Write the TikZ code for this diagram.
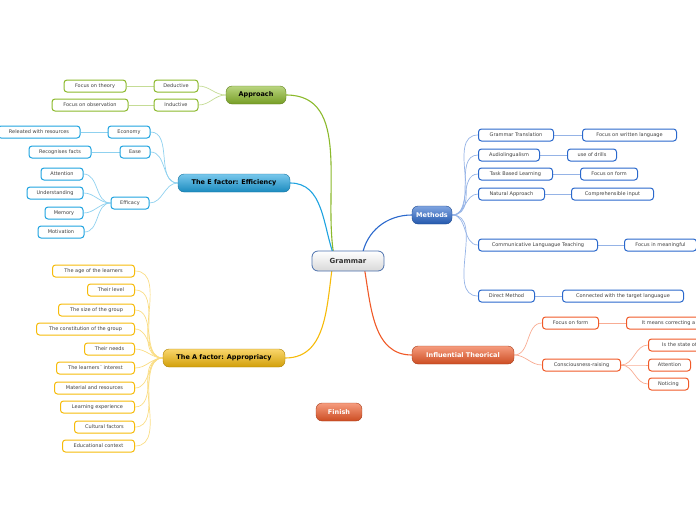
\documentclass[tikz,border=0pt]{standalone}
\usepackage{fontspec}
\setmainfont{DejaVu Sans}
\usetikzlibrary{backgrounds}
\definecolor{cgreen}{HTML}{8BB92B}
\definecolor{ccyan}{HTML}{1FA3E0}
\definecolor{cblue}{HTML}{2A68CC}
\definecolor{cyel}{HTML}{F6BB0A}
\definecolor{cred}{HTML}{F05A28}
\begin{document}
\begin{tikzpicture}[x=1pt,y=-1pt,
  leaf/.style={draw=#1,line width=1pt,rounded corners=3pt,fill=white,inner sep=0pt,minimum height=12pt,font=\fontsize{5}{5.5}\selectfont,text=black!75},
  topic/.style={rounded corners=6pt,top color=#1!60,bottom color=#1!85!black,draw=#1!70!black,line width=0.4pt,inner sep=0pt,minimum height=18pt,font=\bfseries\fontsize{6.5}{7}\selectfont},
  lk/.style={draw=#1!50,line width=0.7pt},
  mk/.style={draw=#1,line width=1.1pt}]
\useasboundingbox (0,0) rectangle (696,520);
\clip (0,0) rectangle (696,520);
% central
\node[rounded corners=6pt,top color=white,bottom color=gray!30,draw=cblue!60!gray,line width=0.8pt,minimum width=72pt,minimum height=20pt,inner sep=0pt,font=\bfseries\fontsize{7}{8}\selectfont,text=black!80] (g) at (348,261) {Grammar};
\coordinate (gl) at (334,256);
\coordinate (gr) at (362,256);
\coordinate (grb) at (364,266);
% Approach
\node[topic=cgreen,minimum width=60pt] (app) at (256,95) {Approach};
\node[leaf=cgreen,minimum width=44pt] (ded) at (176,86) {Deductive};
\node[leaf=cgreen,minimum width=44pt] (ind) at (176,105) {Inductive};
\node[leaf=cgreen,minimum width=62pt] (fth) at (95,86) {Focus on theory};
\node[leaf=cgreen,minimum width=76pt] (fob) at (90,105) {Focus on observation};
% E factor
\node[topic=ccyan,minimum width=112pt] (ef) at (234,183) {The E factor: Efficiency};
\node[leaf=ccyan,minimum width=42pt] (eco) at (129,132) {Economy};
\node[leaf=ccyan,minimum width=30pt] (ease) at (135,152) {Ease};
\node[leaf=ccyan,minimum width=38pt] (effi) at (130,203) {Efficacy};
\node[leaf=ccyan,minimum width=82pt] (rel) at (39,132) {Releated with resources};
\node[leaf=ccyan,minimum width=62pt] (rec) at (60,152) {Recognises facts};
\node[leaf=ccyan,minimum width=42pt] (att) at (62,174) {Attention};
\node[leaf=ccyan,minimum width=56pt] (und) at (55,193) {Understanding};
\node[leaf=ccyan,minimum width=38pt] (mem) at (64,213) {Memory};
\node[leaf=ccyan,minimum width=46pt] (mot) at (61,232) {Motivation};
% A factor
\node[topic=cyel,minimum width=122pt] (af) at (224,358) {The A factor: Appropriacy};
\foreach \t/\l/\y [count=\i] in {The age of the learners/53/271,Their level/88/290,The size of the group/59/310,The constitution of the group/37/329,Their needs/85/349,The learners´ interest/57/368,Material and resources/55/388,Learning experience/61/407,Cultural factors/75/427,Educational context/63/446}{
  \pgfmathsetmacro\w{135-\l}
  \node[leaf=cyel,minimum width=\w pt,anchor=east] (a\i) at (135,\y) {\t};
}
% Methods
\node[topic=cblue,minimum width=40pt,text=white] (met) at (432,215) {Methods};
\foreach \t/\a/\b/\y/\u/\c/\d [count=\i] in {Grammar Translation/478/553/135/Focus on written language/582/676,Audiolingualism/478/539/155/use of drills/567/616,Task Based Learning/478/552/174/Focus on form/580/637,Natural Approach/478/544/194/Comprehensible input/571/653,Communicative Languague Teaching/478/597/245/Focus in meaningful/624/696,Direct Method/478/534/296/Connected with the target languague/562/683}{
  \pgfmathsetmacro\w{\b-\a}
  \pgfmathsetmacro\v{\d-\c}
  \node[leaf=cblue,minimum width=\w pt,anchor=west] (m\i) at (\a,\y) {\t};
  \node[leaf=cblue,minimum width=\v pt,anchor=west] (n\i) at (\c,\y) {\u};
}
% Influential
\node[topic=cred,minimum width=102pt,text=white] (inf) at (463,355) {Influential Theorical};
\node[leaf=cred,minimum width=56pt,anchor=west] (ff) at (542,323) {Focus on form};
\node[leaf=cred,minimum width=84pt,anchor=west] (itm) at (626,323) {It means correcting a};
\node[leaf=cred,minimum width=78pt,anchor=west] (cr) at (542,365) {Consciousness-raising};
\node[leaf=cred,minimum width=62pt,anchor=west] (ist) at (648,345) {Is the state of};
\node[leaf=cred,minimum width=42pt,anchor=west] (att2) at (648,365) {Attention};
\node[leaf=cred,minimum width=40pt,anchor=west] (not) at (648,384) {Noticing};
% Finish
\node[topic=cred,minimum width=46pt,text=white] (fin) at (339,412) {Finish};
\begin{scope}[on background layer]
\draw[mk=cgreen] (app.east) to[out=0,in=100] (gl);
\draw[lk=cgreen] (app.west) to[out=180,in=0] (ded.east);
\draw[lk=cgreen] (app.west) to[out=180,in=0] (ind.east);
\draw[lk=cgreen] (ded.west) -- (fth.east);
\draw[lk=cgreen] (ind.west) -- (fob.east);
\draw[mk=ccyan] (ef.east) to[out=0,in=110] (gl);
\foreach \c in {eco,ease,effi} \draw[lk=ccyan] (ef.west) to[out=180,in=0] (\c.east);
\draw[lk=ccyan] (eco.west) -- (rel.east);
\draw[lk=ccyan] (ease.west) -- (rec.east);
\foreach \c in {att,und,mem,mot} \draw[lk=ccyan] (effi.west) to[out=180,in=0] (\c.east);
\foreach \i in {1,...,10} \draw[lk=cyel] (af.west) to[out=180,in=0] (a\i.east);
\draw[mk=cyel] (af.east) to[out=0,in=-100] (gl);
\draw[mk=cblue] (gr) to[out=80,in=180] (met.west);
\foreach \i in {1,...,6}{
  \draw[lk=cblue] (met.east) to[out=0,in=180] (m\i.west);
  \draw[lk=cblue] (m\i.east) -- (n\i.west);
}
\draw[mk=cred] (grb) to[out=-80,in=180] (inf.west);
\draw[lk=cred] (inf.east) to[out=0,in=180] (ff.west);
\draw[lk=cred] (inf.east) to[out=0,in=180] (cr.west);
\draw[lk=cred] (ff.east) -- (itm.west);
\foreach \c in {ist,att2,not} \draw[lk=cred] (cr.east) to[out=0,in=180] (\c.west);
\end{scope}
\end{tikzpicture}
\end{document}
